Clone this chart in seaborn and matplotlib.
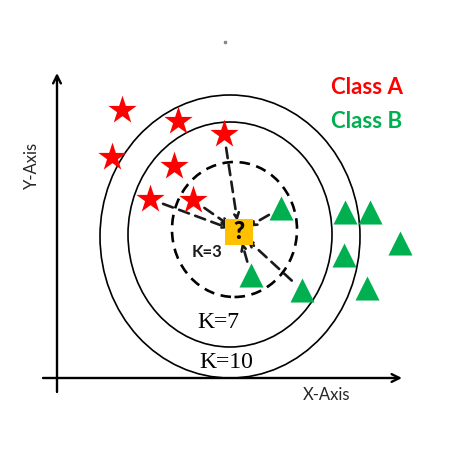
import numpy as np
import pandas as pd
import matplotlib
matplotlib.use('Agg')
import matplotlib.pyplot as plt
from matplotlib.patches import Ellipse, Rectangle
import seaborn as sns

sns.set_theme(style='white')
plt.rcParams['font.family'] = ['Lato', 'DejaVu Sans']

# Data: positions relative to the axes origin (x right, y up)
class_a_x = [65, 121, 55, 167, 117, 93, 136]
class_a_y = [268, 257, 221, 244, 212, 179, 178]
class_b_x = [224, 288, 313, 343, 287, 194, 245, 310]
class_b_y = [170, 166, 166, 135, 123, 103, 88, 90]
query_x, query_y = 182, 146

# neighbours linked to the query (index into class A / class B)
near_a = [3, 5, 6]
near_b = [0, 5, 6]

# K circles: centre x, centre y, width, height
k_labels = ['K=3', 'K=7', 'K=10']
k_cx = [177.5, 173, 173]
k_cy = [148.5, 143.5, 141.5]
k_w = [125, 204, 260]
k_h = [135, 225, 283]

df_a = pd.DataFrame({'x': class_a_x, 'y': class_a_y})
df_b = pd.DataFrame({'x': class_b_x, 'y': class_b_y})

fig = plt.figure(figsize=(4.71, 4.51), dpi=100)
ax = fig.add_axes([0, 0, 1, 1])
ax.set_xlim(-57, 414)
ax.set_ylim(-73, 378)
ax.axis('off')

# axes with arrows
ax.annotate('', xy=(345, 0), xytext=(-14, 0),
            arrowprops=dict(arrowstyle='->', lw=1.7, color='black',
                            shrinkA=0, shrinkB=0, mutation_scale=14))
ax.annotate('', xy=(0, 305), xytext=(0, -14),
            arrowprops=dict(arrowstyle='->', lw=1.7, color='black',
                            shrinkA=0, shrinkB=0, mutation_scale=14))

# circles
for i in range(3):
    lw = 1.9 if i == 0 else 1.2
    e = Ellipse((k_cx[i], k_cy[i]), k_w[i], k_h[i], fill=False,
                edgecolor='black', lw=lw, zorder=2)
    if i == 0:
        e.set_linestyle((0, (4, 2.5)))
    ax.add_patch(e)

# dashed links to the query point
for i in near_a:
    ax.annotate('', xy=(query_x, query_y), xytext=(class_a_x[i], class_a_y[i]),
                arrowprops=dict(arrowstyle='->', lw=1.9, color='#1a1a1a',
                                linestyle=(0, (4, 2.5)), shrinkA=10, shrinkB=8,
                                mutation_scale=10), zorder=3)
for i in near_b:
    ax.annotate('', xy=(query_x, query_y), xytext=(class_b_x[i], class_b_y[i]),
                arrowprops=dict(arrowstyle='->', lw=1.9, color='#1a1a1a',
                                linestyle=(0, (4, 2.5)), shrinkA=10, shrinkB=8,
                                mutation_scale=10), zorder=3)

sns.scatterplot(data=df_a, x='x', y='y', marker='*', s=460, color='#ff0000',
                linewidth=0, ax=ax, zorder=4)
sns.scatterplot(data=df_b, x='x', y='y', marker='^', s=300, color='#00b050',
                linewidth=0, ax=ax, zorder=4)

# query square
ax.add_patch(Rectangle((query_x - 14, query_y - 13), 28, 26,
                       facecolor='#ffc000', edgecolor='none', zorder=5))
ax.text(query_x, query_y, '?', ha='center', va='center', fontsize=17,
        fontweight='heavy', color='black', zorder=6)

# labels
ax.text(150, 126, k_labels[0], ha='center', va='center', fontsize=12,
        fontweight='bold', color='#1a1a1a')
ax.text(161, 56, k_labels[1], ha='center', va='center', fontsize=17,
        family='Liberation Serif', color='black')
ax.text(169, 16, k_labels[2], ha='center', va='center', fontsize=17,
        family='Liberation Serif', color='black')

ax.text(310, 290, 'Class A', ha='center', va='center', fontsize=16,
        fontweight='bold', color='#ff0000')
ax.text(310, 256, 'Class B', ha='center', va='center', fontsize=16,
        fontweight='bold', color='#00b050')

ax.text(270, -17, 'X-Axis', ha='center', va='center', fontsize=12,
        color='#262626')
ax.text(-25, 213, 'Y-Axis', ha='center', va='center', fontsize=12,
        rotation=90, color='#262626')

ax.plot([168], [336], marker='s', ms=1.5, color='#888888')

fig.savefig('out.png', dpi=100)
